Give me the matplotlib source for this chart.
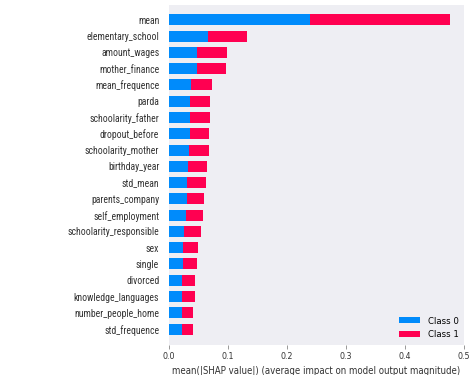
import numpy as np
import matplotlib
matplotlib.use("Agg")
import matplotlib.pyplot as plt
from matplotlib import font_manager

features = ["mean", "elementary_school", "amount_wages", "mother_finance",
            "mean_frequence", "parda", "schoolarity_father", "dropout_before",
            "schoolarity_mother", "birthday_year", "std_mean", "parents_company",
            "self_employment", "schoolarity_responsible", "sex", "single",
            "divorced", "knowledge_languages", "number_people_home", "std_frequence"]
class0 = [0.239, 0.066, 0.048, 0.047, 0.037, 0.036, 0.035, 0.035, 0.034, 0.032,
          0.030, 0.030, 0.028, 0.026, 0.024, 0.023, 0.022, 0.022, 0.0215, 0.0215]
total = [0.476, 0.133, 0.098, 0.096, 0.073, 0.070, 0.069, 0.068, 0.068, 0.065,
         0.063, 0.059, 0.057, 0.054, 0.0485, 0.0475, 0.0435, 0.0435, 0.041, 0.040]
class1 = [t - c for t, c in zip(total, class0)]
xticks = [0.0, 0.1, 0.2, 0.3, 0.4, 0.5]

names = {f.name for f in font_manager.fontManager.ttflist}
label_font = "Liberation Sans Narrow" if "Liberation Sans Narrow" in names else "Roboto Condensed"

fig = plt.figure(figsize=(4.74, 3.75), dpi=100)
ax = fig.add_axes([0.3565, 0.08, 0.6225, 0.907])
ax.set_facecolor("#eeeef3")

ypos = np.arange(len(features))[::-1]
ax.barh(ypos, class0, height=0.68, color="#008bfb", label="Class 0")
ax.barh(ypos, class1, left=class0, height=0.68, color="#ff0051", label="Class 1")

ax.set_yticks(ypos)
ax.set_yticklabels(features, fontsize=7, family=label_font, color="#333333")
ax.set_xticks(xticks)
ax.set_xticklabels([f"{v:.1f}" for v in xticks], fontsize=6.3,
                   fontstretch="condensed", color="#333333")
ax.set_xlim(0, 0.5)
ax.set_ylim(-0.98, len(features) - 0.08)
ax.set_xlabel("mean(|SHAP value|) (average impact on model output magnitude)",
              fontsize=6.9, fontstretch="condensed", color="#333333", labelpad=3)

for s in ["top", "right", "left", "bottom"]:
    ax.spines[s].set_visible(False)
ax.tick_params(axis="y", length=0, pad=7)
ax.tick_params(axis="x", length=3, width=0.6, color="#888888", pad=2)

ax.legend(loc="lower right", frameon=False, handlelength=2.2, handleheight=0.6,
          prop={"size": 6.8, "stretch": "condensed"}, borderaxespad=0.2)

fig.savefig("out.png", dpi=100, facecolor="white")
